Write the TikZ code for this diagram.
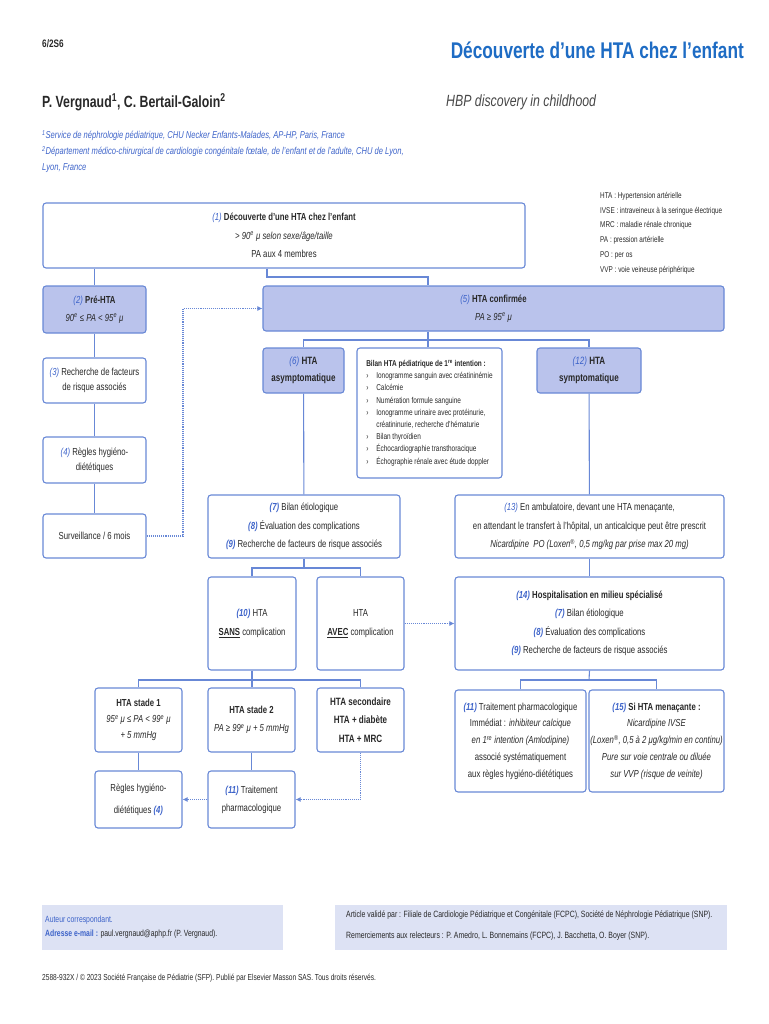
\documentclass[tikz,border=0pt]{standalone}
\usepackage{fontspec}
\setmainfont{Liberation Sans}[FakeStretch=0.76]
\usetikzlibrary{arrows.meta}
\definecolor{bordc}{RGB}{104,136,214}
\definecolor{fillc}{RGB}{186,195,236}
\definecolor{numc}{RGB}{61,99,201}
\definecolor{textc}{RGB}{40,40,40}
\definecolor{titlec}{RGB}{30,108,196}
\definecolor{footc}{RGB}{221,226,244}
\newcommand\nb[1]{{\color{numc}\itshape #1}}
\newcommand\nbb[1]{{\color{numc}\bfseries\itshape #1}}
\newcommand\sut[1]{\textsuperscript{#1}}
\tikzset{
  box/.style={draw=bordc, line width=1.1pt, rounded corners=3pt, align=center, inner sep=0pt, text=textc, font=\fontsize{10.2}{18.5}\selectfont},
  filledbox/.style={box, fill=fillc},
  conn/.style={draw=bordc, line width=1.1pt},
  dotarrow/.style={draw=bordc, line width=1.1pt, densely dotted, -{Latex[length=5pt,width=5pt]}},
  plain/.style={inner sep=0pt, text=textc, anchor=west},
}
\begin{document}
\begin{tikzpicture}[x=1pt,y=-1pt]
\useasboundingbox (0,0) rectangle (768,1024);
% header
\node[plain, font=\fontsize{10.8}{12}\selectfont\bfseries] (pg) at (42,44) {6/2S6};
\node[inner sep=0pt, anchor=east, text=titlec, font=\fontsize{22.7}{26}\selectfont\bfseries] (title) at (744,50) {Découverte d’une HTA chez l’enfant};
\node[plain, font=\fontsize{16.2}{19}\selectfont\bfseries] (auth) at (42,102) {P. Vergnaud\sut{1}, C. Bertail-Galoin\sut{2}};
\node[plain, text=black!72, font=\fontsize{16.2}{19}\selectfont\itshape] (sub) at (446,102) {HBP discovery in childhood};
\node[plain, text=numc, font=\fontsize{10}{16}\selectfont\itshape, align=left, anchor=north west] (aff) at (42,130) {\sut{1}Service de néphrologie pédiatrique, CHU Necker Enfants-Malades, AP-HP, Paris, France\\
\sut{2}Département médico-chirurgical de cardiologie congénitale fœtale, de l’enfant et de l’adulte, CHU de Lyon,\\
Lyon, France};
% legend
\node[plain, font=\fontsize{8.4}{14.8}\selectfont, align=left, anchor=north west] (leg) at (600,192) {HTA : Hypertension artérielle\\
IVSE : intraveineux à la seringue électrique\\
MRC : maladie rénale chronique\\
PA : pression artérielle\\
PO : per os\\
VVP : voie veineuse périphérique};
% boxes
\node[box, minimum width=482pt, minimum height=65pt] (n1) at (284,235.5) {\nb{(1)} \textbf{Découverte d'une HTA chez l'enfant}\\ \textit{> 90\sut{e} μ selon sexe/âge/taille}\\ PA aux 4 membres};
\node[filledbox, minimum width=103pt, minimum height=47pt] (n2) at (94.5,309.5) {\nb{(2)} \textbf{Pré-HTA}\\ \textit{90\sut{e} ≤ PA < 95\sut{e} μ}};
\node[box, minimum width=103pt, minimum height=45pt, font=\fontsize{10.2}{15}\selectfont] (n3) at (94.5,380.5) {\nb{(3)} Recherche de facteurs\\ de risque associés};
\node[box, minimum width=103pt, minimum height=46pt, font=\fontsize{10.2}{15}\selectfont] (n4) at (94.5,460) {\nb{(4)} Règles hygiéno-\\ diététiques};
\node[box, minimum width=103pt, minimum height=44pt] (surv) at (94.5,536) {Surveillance / 6 mois};
\node[filledbox, minimum width=461pt, minimum height=45pt] (n5) at (493.5,308.5) {\nb{(5)} \textbf{HTA confirmée}\\ \textit{PA ≥ 95\sut{e} μ}};
\node[filledbox, minimum width=81pt, minimum height=45pt, font=\fontsize{10.6}{17}\selectfont] (n6) at (303.5,370.5) {\nb{(6)} \textbf{HTA}\\ \textbf{asymptomatique}};
\node[filledbox, minimum width=104pt, minimum height=45pt, font=\fontsize{10.6}{17}\selectfont] (n12) at (589,370.5) {\nb{(12)} \textbf{HTA}\\ \textbf{symptomatique}};
\node[box, minimum width=145pt, minimum height=130pt, font=\fontsize{8.5}{12.2}\selectfont, align=left] (bil) at (429.5,413) {\textbf{Bilan HTA pédiatrique de 1\sut{re} intention :}\\
\makebox[10pt][l]{›}Ionogramme sanguin avec créatininémie\\
\makebox[10pt][l]{›}Calcémie\\
\makebox[10pt][l]{›}Numération formule sanguine\\
\makebox[10pt][l]{›}Ionogramme urinaire avec protéinurie,\\
\hspace*{10pt}créatininurie, recherche d’hématurie\\
\makebox[10pt][l]{›}Bilan thyroïdien\\
\makebox[10pt][l]{›}Échocardiographie transthoracique\\
\makebox[10pt][l]{›}Échographie rénale avec étude doppler};
\node[box, minimum width=192pt, minimum height=63pt] (n7) at (304,526.5) {\nbb{(7)} Bilan étiologique\\ \nbb{(8)} Évaluation des complications\\ \nbb{(9)} Recherche de facteurs de risque associés};
\node[box, minimum width=269pt, minimum height=63pt] (n13) at (589.5,526.5) {\nb{(13)} En ambulatoire, devant une HTA menaçante,\\ en attendant le transfert à l'hôpital, un anticalcique peut être prescrit\\ \textit{Nicardipine\ \ PO (Loxen\sut{®}, 0,5 mg/kg par prise max 20 mg)}};
\node[box, minimum width=88pt, minimum height=93pt] (n10) at (252,623.5) {\nbb{(10)} HTA\\ \underline{\textbf{SANS}} complication};
\node[box, minimum width=87pt, minimum height=93pt] (avec) at (360.5,623.5) {HTA\\ \underline{\textbf{AVEC}} complication};
\node[box, minimum width=269pt, minimum height=93pt] (n14) at (589.5,623.5) {\nbb{(14)} \textbf{Hospitalisation en milieu spécialisé}\\ \nbb{(7)} Bilan étiologique\\ \nbb{(8)} Évaluation des complications\\ \nbb{(9)} Recherche de facteurs de risque associés};
\node[box, minimum width=87pt, minimum height=64pt, font=\fontsize{10.2}{16}\selectfont] (st1) at (138.5,720) {\textbf{HTA stade 1}\\ \textit{95\sut{e} μ ≤ PA < 99\sut{e} μ}\\ \textit{+ 5 mmHg}};
\node[box, minimum width=87pt, minimum height=64pt] (st2) at (251.5,720) {\textbf{HTA stade 2}\\ \textit{PA ≥ 99\sut{e} μ + 5 mmHg}};
\node[box, minimum width=87pt, minimum height=64pt, font=\fontsize{10.6}{18.5}\selectfont] (sec) at (360.5,720) {\textbf{HTA secondaire}\\ \textbf{HTA + diabète}\\ \textbf{HTA + MRC}};
\node[box, minimum width=87pt, minimum height=57pt, font=\fontsize{10.2}{22}\selectfont] (regl) at (138.5,799.5) {Règles hygiéno-\\ diététiques \nbb{(4)}};
\node[box, minimum width=87pt, minimum height=57pt, font=\fontsize{10.2}{18}\selectfont] (trait) at (251.5,799.5) {\nbb{(11)} Traitement\\ pharmacologique};
\node[box, minimum width=131pt, minimum height=102pt, font=\fontsize{10.2}{16.8}\selectfont] (n11) at (520.5,741) {\nbb{(11)} Traitement pharmacologique\\ Immédiat : \textit{inhibiteur calcique}\\ \textit{en 1\sut{re} intention (Amlodipine)}\\ associé systématiquement\\ aux règles hygiéno-diététiques};
\node[box, minimum width=135pt, minimum height=102pt, font=\fontsize{10.2}{16.8}\selectfont] (n15) at (656.5,741) {\nbb{(15)} \textbf{Si HTA menaçante :}\\ \textit{Nicardipine IVSE}\\ \textit{(Loxen\sut{®}, 0,5 à 2 μg/kg/min en continu)}\\ \textit{Pure sur voie centrale ou diluée}\\ \textit{sur VVP (risque de veinite)}};
% connectors
\coordinate (j1a) at (267,277);
\coordinate (j1b) at (428,277);
\coordinate (j5) at (428,340);
\coordinate (j7) at (304,568);
\coordinate (j10) at (252,680);
\coordinate (j14) at (589,680);
\coordinate (dv) at (183,536);
\draw[conn] (n1.south -| n2.north) -- (n2.north);
\draw[conn] (n1.south -| j1a) -- (j1a) -- (j1b) -- (j1b |- n5.north);
\draw[conn] (n2) -- (n3);
\draw[conn] (n3) -- (n4);
\draw[conn] (n4) -- (surv);
\draw[dotarrow] (surv.east) -- (dv) -- (dv |- n5.west) -- (n5.west);
\draw[conn] (n5.south -| j5) -- (bil.north -| j5);
\draw[conn] (n6.north) -- (n6.north |- j5) -- (n12.north |- j5) -- (n12.north);
\draw[conn] (n6) -- (n7);
\draw[conn] (n7.south) -- (j7);
\draw[conn] (n10.north) -- (n10.north |- j7) -- (avec.north |- j7) -- (avec.north);
\draw[dotarrow] (avec.east) -- (n14.west);
\draw[conn] (n10.south) -- (j10);
\draw[conn] (st1.north) -- (st1.north |- j10) -- (sec.north |- j10) -- (sec.north);
\draw[conn] (j10) -- (j10 |- st2.north);
\draw[conn] (st1) -- (regl);
\draw[conn] (st2) -- (trait);
\draw[dotarrow] (trait.west) -- (regl.east);
\draw[dotarrow] (sec.south) -- (sec.south |- trait.east) -- (trait.east);
\draw[conn] (n12) -- (n13);
\draw[conn] (n13) -- (n14);
\draw[conn] (n14.south) -- (j14);
\draw[conn] (n11.north) -- (n11.north |- j14) -- (n15.north |- j14) -- (n15.north);
% footer
\node[fill=footc, minimum width=241pt, minimum height=45pt, inner sep=0pt] (fl) at (162.5,927.5) {};
\node[plain, font=\fontsize{9}{14}\selectfont, align=left, anchor=west] (flt) at (45,927) {{\color{numc}Auteur correspondant.}\\ {\color{numc}\bfseries Adresse e-mail :} paul.vergnaud@aphp.fr (P. Vergnaud).};
\node[fill=footc, minimum width=392pt, minimum height=45pt, inner sep=0pt] (fr) at (531,927.5) {};
\node[plain, font=\fontsize{9.1}{21}\selectfont, align=left, anchor=west] (frt) at (346,926) {Article validé par : Filiale de Cardiologie Pédiatrique et Congénitale (FCPC), Société de Néphrologie Pédiatrique (SNP).\\ Remerciements aux relecteurs : P. Amedro, L. Bonnemains (FCPC), J. Bacchetta, O. Boyer (SNP).};
\node[plain, font=\fontsize{8.7}{10}\selectfont] (copy) at (42,978) {2588-932X / © 2023 Société Française de Pédiatrie (SFP). Publié par Elsevier Masson SAS. Tous droits réservés.};
\end{tikzpicture}
\end{document}
